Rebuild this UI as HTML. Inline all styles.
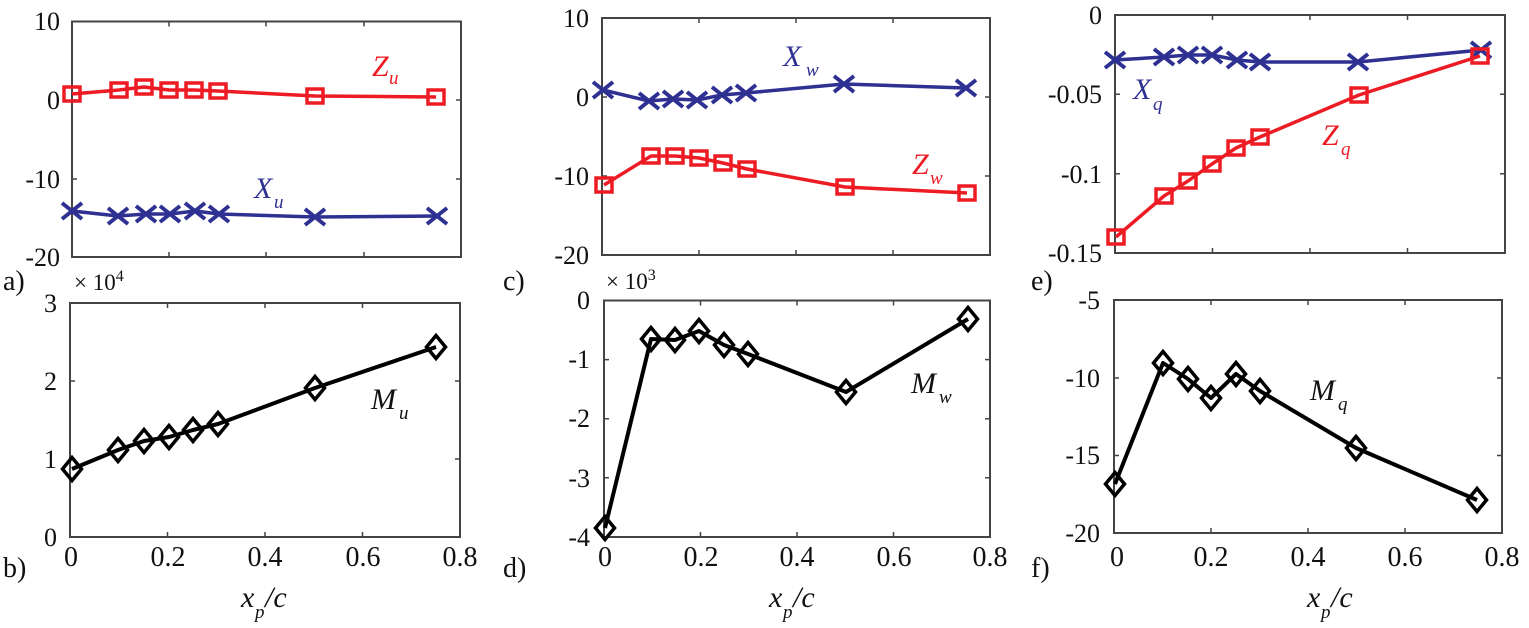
<!DOCTYPE html>
<html><head><meta charset="utf-8"><style>
html,body{margin:0;padding:0;background:#fff;}
svg{display:block;}
text{font-family:"Liberation Serif","DejaVu Serif","Times New Roman",serif;font-size:26px;fill:#111;}
.ax{fill:none;stroke:#444;stroke-width:2;}
.tk{stroke:#444;stroke-width:1.5;fill:none;}
.bl{fill:none;stroke:#2e3192;stroke-width:3.5;stroke-linejoin:round;}
.rd{fill:none;stroke:#ed1c24;stroke-width:3.5;stroke-linejoin:round;}
.bk{fill:none;stroke:#000;stroke-width:4;stroke-linejoin:round;}
.yl{text-anchor:end;}
.xl{text-anchor:middle;font-size:28px;}
.it{font-style:italic;font-size:30px;}
.sub{font-style:italic;font-size:19px;}
.pl{font-size:28px;}
</style></head><body>
<svg width="1529" height="628" viewBox="0 0 1529 628" xmlns="http://www.w3.org/2000/svg" font-family="Liberation Serif, DejaVu Serif, serif">
<defs>
<g id="cx"><path d="M-10,-8L10,8M-10,8L10,-8" stroke="#2e3192" stroke-width="4" fill="none"/></g>
<g id="sq"><rect x="-8" y="-7" width="16" height="14" fill="none" stroke="#ed1c24" stroke-width="3.5"/></g>
<g id="dm"><path d="M0,-11.5L9.5,0L0,11.5L-9.5,0Z" fill="none" stroke="#000" stroke-width="3.5"/></g>
</defs>

<!-- Panel a -->
<rect class="ax" x="72" y="21.5" width="389" height="235.5"/>
<path class="tk" d="M169,21.5v5M266,21.5v5M364,21.5v5M169,257v-5M266,257v-5M364,257v-5M72,100h5M72,179h5M461,100h-5M461,179h-5"/>
<text class="yl" x="60" y="30">10</text><text class="yl" x="60" y="109">0</text><text class="yl" x="60" y="188">-10</text><text class="yl" x="60" y="266">-20</text>
<polyline class="rd" points="72,94 119,90 144,87 169,90 194,90 218,91 315,96 436,97"/>
<use href="#sq" x="72" y="94"/><use href="#sq" x="119" y="90"/><use href="#sq" x="144" y="87"/><use href="#sq" x="169" y="90"/><use href="#sq" x="194" y="90"/><use href="#sq" x="218" y="91"/><use href="#sq" x="315" y="96"/><use href="#sq" x="436" y="97"/>
<polyline class="bl" points="72,211 118,216 146,214 170,214 195,211 219,214 315,217 437,216"/>
<use href="#cx" x="72" y="211"/><use href="#cx" x="118" y="216"/><use href="#cx" x="146" y="214"/><use href="#cx" x="170" y="214"/><use href="#cx" x="195" y="211"/><use href="#cx" x="219" y="214"/><use href="#cx" x="315" y="217"/><use href="#cx" x="437" y="216"/>
<text class="it" x="372" y="76" style="fill:#ed1c24">Z</text><text class="sub" x="389" y="84" style="fill:#ed1c24">u</text>
<text class="it" x="254" y="198" style="fill:#2e3192">X</text><text class="sub" x="274" y="208" style="fill:#2e3192">u</text>
<text class="pl" x="3" y="290">a)</text>
<text x="74" y="290" style="font-size:23px">× 10<tspan dy="-9" style="font-size:16px">4</tspan></text>

<!-- Panel b -->
<rect class="ax" x="70" y="303" width="390" height="234"/>
<path class="tk" d="M167.5,303v5M265,303v5M362.5,303v5M167.5,537v-5M265,537v-5M362.5,537v-5M70,459h5M70,381h5M460,459h-5M460,381h-5"/>
<text class="yl" x="57" y="312">3</text><text class="yl" x="57" y="390">2</text><text class="yl" x="57" y="468">1</text><text class="yl" x="57" y="546">0</text>
<text class="xl" x="71" y="566">0</text><text class="xl" x="168" y="566">0.2</text><text class="xl" x="265" y="566">0.4</text><text class="xl" x="363" y="566">0.6</text><text class="xl" x="460" y="566">0.8</text>
<polyline class="bk" points="72,469 118,450 144,441 169,437 193,430 218,424 315,388 436,347"/>
<use href="#dm" x="72" y="469"/><use href="#dm" x="118" y="450"/><use href="#dm" x="144" y="441"/><use href="#dm" x="169" y="437"/><use href="#dm" x="193" y="430"/><use href="#dm" x="218" y="424"/><use href="#dm" x="315" y="388"/><use href="#dm" x="436" y="347"/>
<text class="it" x="371" y="409">M</text><text class="sub" x="399" y="419">u</text>
<text class="pl" x="3" y="577">b)</text>
<text class="it" x="241" y="607">x</text><text class="sub" x="255" y="618">p</text><text class="it" x="265" y="607">/c</text>

<!-- Panel c -->
<rect class="ax" x="602" y="18" width="388" height="237"/>
<path class="tk" d="M699,18v5M796,18v5M893,18v5M699,255v-5M796,255v-5M893,255v-5M602,97h5M602,176h5M990,97h-5M990,176h-5"/>
<text class="yl" x="589" y="27">10</text><text class="yl" x="589" y="106">0</text><text class="yl" x="589" y="185">-10</text><text class="yl" x="589" y="264">-20</text>
<polyline class="bl" points="603,90 649,101 673,99 697,100 722,95 746,93 844,84 966,88"/>
<use href="#cx" x="603" y="90"/><use href="#cx" x="649" y="101"/><use href="#cx" x="673" y="99"/><use href="#cx" x="697" y="100"/><use href="#cx" x="722" y="95"/><use href="#cx" x="746" y="93"/><use href="#cx" x="844" y="84"/><use href="#cx" x="966" y="88"/>
<polyline class="rd" points="604,185 651,156 675,156 699,158 723,163 747,169 845,187 967,193"/>
<use href="#sq" x="604" y="185"/><use href="#sq" x="651" y="156"/><use href="#sq" x="675" y="156"/><use href="#sq" x="699" y="158"/><use href="#sq" x="723" y="163"/><use href="#sq" x="747" y="169"/><use href="#sq" x="845" y="187"/><use href="#sq" x="967" y="193"/>
<text class="it" x="783" y="66" style="fill:#2e3192">X</text><text class="sub" x="806" y="76" style="fill:#2e3192">w</text>
<text class="it" x="912" y="174" style="fill:#ed1c24">Z</text><text class="sub" x="930" y="184" style="fill:#ed1c24">w</text>
<text class="pl" x="503" y="290">c)</text>
<text x="606" y="289" style="font-size:23px">× 10<tspan dy="-9" style="font-size:16px">3</tspan></text>

<!-- Panel d -->
<rect class="ax" x="604" y="300.5" width="386" height="236.5"/>
<path class="tk" d="M700.5,300.5v5M797,300.5v5M893.5,300.5v5M700.5,537v-5M797,537v-5M893.5,537v-5M604,359.6h5M604,418.7h5M604,477.8h5M990,359.6h-5M990,418.7h-5M990,477.8h-5"/>
<text class="yl" x="590" y="309">0</text><text class="yl" x="590" y="368">-1</text><text class="yl" x="590" y="427">-2</text><text class="yl" x="590" y="487">-3</text><text class="yl" x="590" y="546">-4</text>
<text class="xl" x="605" y="566">0</text><text class="xl" x="701" y="566">0.2</text><text class="xl" x="797" y="566">0.4</text><text class="xl" x="894" y="566">0.6</text><text class="xl" x="990" y="566">0.8</text>
<polyline class="bk" points="605,528 651,339 675,340 699,331 724,345 748,354 846,392 968,319"/>
<use href="#dm" x="605" y="528"/><use href="#dm" x="651" y="339"/><use href="#dm" x="675" y="340"/><use href="#dm" x="699" y="331"/><use href="#dm" x="724" y="345"/><use href="#dm" x="748" y="354"/><use href="#dm" x="846" y="392"/><use href="#dm" x="968" y="319"/>
<text class="it" x="911" y="393">M</text><text class="sub" x="939" y="403">w</text>
<text class="pl" x="503" y="577">d)</text>
<text class="it" x="769" y="607">x</text><text class="sub" x="783" y="618">p</text><text class="it" x="793" y="607">/c</text>

<!-- Panel e -->
<rect class="ax" x="1115" y="15" width="390" height="238"/>
<path class="tk" d="M1212.5,15v5M1310,15v5M1407.5,15v5M1212.5,253v-5M1310,253v-5M1407.5,253v-5M1115,94.3h5M1115,173.7h5M1505,94.3h-5M1505,173.7h-5"/>
<text class="yl" x="1102" y="24">0</text><text class="yl" x="1102" y="103">-0.05</text><text class="yl" x="1102" y="183">-0.1</text><text class="yl" x="1102" y="262">-0.15</text>
<polyline class="bl" points="1115,60 1164,57 1188,55 1212,55 1237,60 1260,62 1358,62 1481,50"/>
<use href="#cx" x="1115" y="60"/><use href="#cx" x="1164" y="57"/><use href="#cx" x="1188" y="55"/><use href="#cx" x="1212" y="55"/><use href="#cx" x="1237" y="60"/><use href="#cx" x="1260" y="62"/><use href="#cx" x="1358" y="62"/><use href="#cx" x="1481" y="50"/>
<polyline class="rd" points="1116,237 1164,196 1188,181 1212,164 1236,148 1260,137 1359,95 1480,56"/>
<use href="#sq" x="1116" y="237"/><use href="#sq" x="1164" y="196"/><use href="#sq" x="1188" y="181"/><use href="#sq" x="1212" y="164"/><use href="#sq" x="1236" y="148"/><use href="#sq" x="1260" y="137"/><use href="#sq" x="1359" y="95"/><use href="#sq" x="1480" y="56"/>
<text class="it" x="1133" y="99" style="fill:#2e3192">X</text><text class="sub" x="1153" y="110" style="fill:#2e3192">q</text>
<text class="it" x="1322" y="145" style="fill:#ed1c24">Z</text><text class="sub" x="1341" y="155" style="fill:#ed1c24">q</text>
<text class="pl" x="1031" y="290">e)</text>

<!-- Panel f -->
<rect class="ax" x="1114" y="300" width="388" height="233"/>
<path class="tk" d="M1211,300v5M1308,300v5M1405,300v5M1211,533v-5M1308,533v-5M1405,533v-5M1114,378h5M1114,455.5h5M1502,378h-5M1502,455.5h-5"/>
<text class="yl" x="1100" y="309">-5</text><text class="yl" x="1100" y="387">-10</text><text class="yl" x="1100" y="464">-15</text><text class="yl" x="1100" y="542">-20</text>
<text class="xl" x="1117" y="566">0</text><text class="xl" x="1211" y="566">0.2</text><text class="xl" x="1308" y="566">0.4</text><text class="xl" x="1405" y="566">0.6</text><text class="xl" x="1502" y="566">0.8</text>
<polyline class="bk" points="1115,484 1163,363 1188,379 1211,398 1236,374 1260,391 1356,448 1477,500"/>
<use href="#dm" x="1115" y="484"/><use href="#dm" x="1163" y="363"/><use href="#dm" x="1188" y="379"/><use href="#dm" x="1211" y="398"/><use href="#dm" x="1236" y="374"/><use href="#dm" x="1260" y="391"/><use href="#dm" x="1356" y="448"/><use href="#dm" x="1477" y="500"/>
<text class="it" x="1310" y="400">M</text><text class="sub" x="1338" y="410">q</text>
<text class="pl" x="1031" y="577">f)</text>
<text class="it" x="1307" y="607">x</text><text class="sub" x="1321" y="618">p</text><text class="it" x="1331" y="607">/c</text>
</svg>
</body></html>
